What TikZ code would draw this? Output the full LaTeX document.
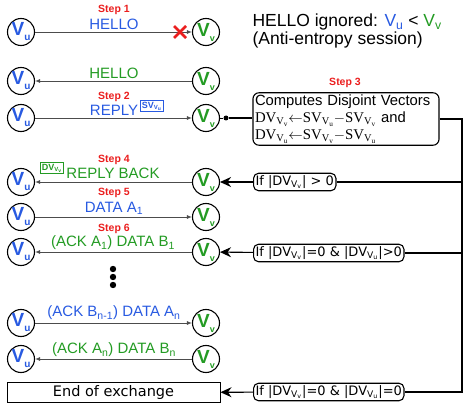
\documentclass[tikz,border=0pt]{standalone}
\usepackage{fontspec}
\setmainfont{Liberation Sans}
\newfontfamily\condfont{DejaVu Sans}
\newfontfamily\formfont{Liberation Serif}
\usepackage{tikz}
\usetikzlibrary{arrows.meta,positioning}
\definecolor{ublue}{RGB}{40, 90, 225}
\definecolor{vgreen}{RGB}{35, 155, 35}
\definecolor{stepred}{RGB}{235, 30, 30}
\newcommand{\peerU}{\textcolor{ublue}{\fontsize{19}{19}\selectfont\bfseries V\raisebox{-5pt}{\fontsize{10}{10}\selectfont u}}}
\newcommand{\peerV}{\textcolor{vgreen}{\fontsize{19}{19}\selectfont\bfseries V\raisebox{-5pt}{\fontsize{9}{9}\selectfont v}}}
\newcommand{\vsub}[1]{\textsubscript{V\textsubscript{#1}}}

\begin{document}
\begin{tikzpicture}[x=1pt, y=-1pt,
    peer/.style={circle, draw, line width=1.1pt, minimum size=27pt, inner sep=0pt},
    msg/.style={draw=black!70, line width=0.9pt, -{Latex[length=5pt,width=4pt]}},
    steplbl/.style={text=stepred, font=\fontsize{10.5}{11}\selectfont\bfseries},
    ulbl/.style={text=ublue, font=\fontsize{15}{16}\selectfont},
    vlbl/.style={text=vgreen, font=\fontsize{15}{16}\selectfont},
    tag/.style={draw, line width=0.7pt, inner sep=1.2pt, font=\fontsize{9}{9}\selectfont\bfseries},
    cond/.style={draw, rounded corners=5pt, line width=1.1pt, inner sep=2pt, font=\condfont\fontsize{13}{15}\selectfont},
    bus/.style={line width=1.1pt},
    feed/.style={line width=1.1pt, -{Stealth[length=11pt,width=10pt]}}]
    \useasboundingbox (0,0) rectangle (474,409);

    % Step 1: HELLO from u is dropped
    \node[peer] (u1) at (21,32) {\peerU};
    \node[peer] (v1) at (206,32) {\peerV};
    \draw[msg] (u1) -- (v1);
    \node[steplbl] (s1) at (114,10) {Step 1};
    \node[ulbl] (m1) at (114,24) {HELLO};
    \draw[stepred, line width=2.5pt] (174,26) -- (186,38) (174,38) -- (186,26);
    \node[anchor=west, font=\fontsize{17.5}{19}\selectfont] (ign) at (249,22) {HELLO ignored: \textcolor{ublue}{V\textsubscript{u}} < \textcolor{vgreen}{V\textsubscript{v}}};
    \node[anchor=west, font=\fontsize{17.5}{19}\selectfont] (aes) at (249,40) {(Anti-entropy session)};

    % HELLO from v
    \node[peer] (u2) at (21,81) {\peerU};
    \node[peer] (v2) at (206,81) {\peerV};
    \draw[msg] (v2) -- (u2);
    \node[vlbl] (m2) at (114,73) {HELLO};

    % Step 2: reply with summary vector
    \node[peer] (u3) at (21,118) {\peerU};
    \node[peer] (v3) at (206,118) {\peerV};
    \draw[msg] (u3) -- (v3);
    \node[steplbl] (s2) at (114,97) {Step 2};
    \node[ulbl] (m3) at (114,110) {REPLY};
    \node[tag, ublue] (sv) at (152,106) {SV\textsubscript{V\textsubscript{u}}};

    % Step 3: disjoint vectors
    \node[circle, fill, inner sep=0pt, minimum size=5pt] (tap) at (226,118) {};
    \node[steplbl] (s3) at (345,83) {Step 3};
    \node[draw, rounded corners=6pt, line width=1.1pt, align=left, inner sep=2pt, text width=182pt, font=\fontsize{14.8}{17}\selectfont] (comp) at (346,119) {Computes Disjoint Vectors\\
        {\formfont DV\vsub{v}$\leftarrow$SV\vsub{u}$-$SV\vsub{v}} and\\
        {\formfont DV\vsub{u}$\leftarrow$SV\vsub{v}$-$SV\vsub{u}}};
    \draw[line width=0.8pt] (v3) -- (tap);
    \draw[bus] (tap) -- (tap -| comp.west);

    % Step 4: reply back
    \node[peer] (u4) at (21,182) {\peerU};
    \node[peer] (v4) at (206,182) {\peerV};
    \draw[msg] (v4) -- (u4);
    \node[steplbl] (s4) at (114,160) {Step 4};
    \node[vlbl] (m4) at (113,173) {REPLY BACK};
    \node[tag, vgreen] (dv) at (52,168) {DV\textsubscript{V\textsubscript{v}}};

    % Step 5 and 6: data exchange
    \node[peer] (u5) at (21,217) {\peerU};
    \node[peer] (v5) at (206,217) {\peerV};
    \draw[msg] (u5) -- (v5);
    \node[steplbl] (s5) at (114,193) {Step 5};
    \node[ulbl] (m5) at (114,208) {DATA A\textsubscript{1}};

    \node[peer] (u6) at (21,252) {\peerU};
    \node[peer] (v6) at (206,252) {\peerV};
    \draw[msg] (v6) -- (u6);
    \node[steplbl] (s6) at (114,229) {Step 6};
    \node[vlbl] (m6) at (113,243) {(ACK A\textsubscript{1}) DATA B\textsubscript{1}};

    \foreach \y in {269,277,285}
        \fill (113,\y) circle (3.2pt);

    \node[peer] (u7) at (21,323) {\peerU};
    \node[peer] (v7) at (206,323) {\peerV};
    \draw[msg] (u7) -- (v7);
    \node[ulbl] (m7) at (114,313) {(ACK B\textsubscript{n-1}) DATA A\textsubscript{n}};

    \node[peer] (u8) at (21,359) {\peerU};
    \node[peer] (v8) at (206,359) {\peerV};
    \draw[msg] (v8) -- (u8);
    \node[vlbl] (m8) at (114,350) {(ACK A\textsubscript{n}) DATA B\textsubscript{n}};

    \node[draw, line width=1pt, minimum width=213pt, minimum height=20pt, inner sep=0pt, font=\condfont\fontsize{14.5}{15}\selectfont] (fin) at (113.5,392.5) {End of exchange};

    % Conditions on the right
    \node[cond, anchor=west] (c1) at (253,182) {If |DV\vsub{v}| > 0};
    \node[cond, anchor=west] (c2) at (253,253) {If |DV\vsub{v}|=0 \& |DV\vsub{u}|>0};
    \node[cond, anchor=west] (c3) at (253,392) {If |DV\vsub{v}|=0 \& |DV\vsub{u}|=0};
    \coordinate (busT) at (462,119);
    \coordinate (busB) at (462,392);
    \draw[bus] (comp.east) -- (busT) -- (busB) -- (c3.east);
    \draw[bus] (busT |- c1) -- (c1.east);
    \draw[bus] (busT |- c2) -- (c2.east);
    \draw[feed] (c1) -- (v4);
    \draw[feed] (c2) -- (v6);
    \draw[feed] (c3) -- (fin);
\end{tikzpicture}
\end{document}
